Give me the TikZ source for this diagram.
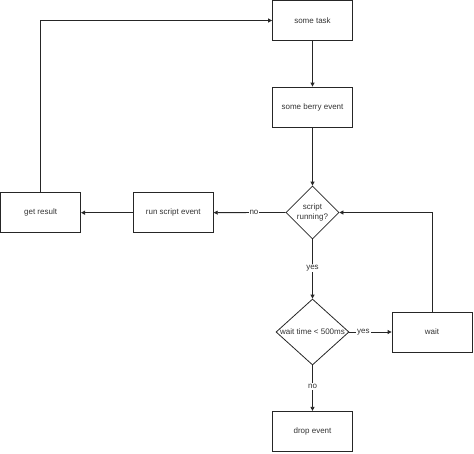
\documentclass[tikz,border=0pt]{standalone}
\usepackage{fontspec}
\setmainfont{Liberation Sans}
\usetikzlibrary{shapes.geometric,arrows.meta}
\begin{document}
\begin{tikzpicture}[x=1pt,y=-1pt,line width=0.8pt,color=black!85,
    every node/.style={font=\fontsize{8}{9.6}\selectfont,text=black!80},
    box/.style={draw,rectangle,minimum width=80pt,minimum height=40pt,inner sep=0pt},
    dia/.style={draw,diamond,inner sep=0pt,align=center},
    arr/.style={-{Triangle[length=4pt,width=4pt]}},
    lbl/.style={fill=white,inner sep=1pt}]
      \useasboundingbox (0,0) rectangle (474,453);
      \node[box] (task) at (312.5,20.5) {some task};
      \node[box] (berry) at (312.5,107) {some berry event};
      \node[dia,minimum width=53pt,minimum height=53pt] (running) at (312.5,212.5) {script\\running?};
      \node[box] (runscript) at (173.3,212.7) {run script event};
      \node[box] (result) at (40.6,212.7) {get result};
      \node[dia,shape aspect=1.1,minimum width=73pt,minimum height=66pt] (waittime) at (312.5,332) {wait time < 500ms};
      \node[box] (wait) at (432,332) {wait};
      \node[box] (drop) at (312.5,431.3) {drop event};
      \draw[arr] (task) -- (berry);
      \draw[arr] (berry) -- (running);
      \draw[arr] (running) -- node[lbl,pos=0.44] (no1) {no} (runscript);
      \draw[arr] (runscript) -- (result);
      \draw[arr] (result.north) |- (task.west);
      \draw[arr] (running) -- node[lbl,pos=0.48] (yes1) {yes} (waittime);
      \draw[arr] (waittime) -- node[lbl,pos=0.33] (yes2) {yes} (wait);
      \draw[arr] (waittime) -- node[lbl,pos=0.46] (no2) {no} (drop);
      \draw[arr] (wait.north) |- (running.east);
    \end{tikzpicture}
\end{document}
